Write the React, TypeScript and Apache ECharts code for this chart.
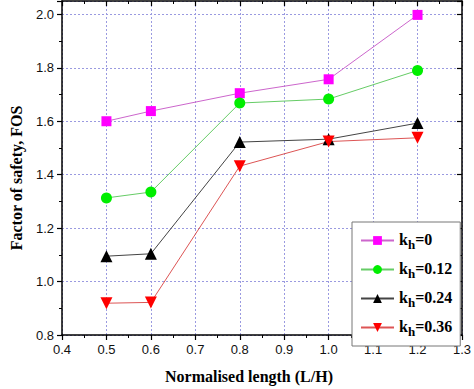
import React, { useEffect, useRef } from "react";
import * as echarts from "echarts";

const xValues = [0.5, 0.6, 0.8, 1.0, 1.2];
const kh0 = [1.6, 1.638, 1.705, 1.757, 1.998];
const kh012 = [1.313, 1.335, 1.668, 1.683, 1.79];
const kh024 = [1.095, 1.104, 1.522, 1.533, 1.593];
const kh036 = [0.919, 0.922, 1.432, 1.524, 1.538];
const seriesNames = ["0", "0.12", "0.24", "0.36"];

export default function App() {
  const ref = useRef<HTMLDivElement>(null);
  useEffect(() => {
    if (!ref.current) return;
    const chart = echarts.init(ref.current, null, { renderer: "svg" });
    const pairs = (ys: number[]) => xValues.map((x, i) => [x, ys[i]]);
    const axisLine = { show: true, lineStyle: { color: "#000", width: 1.5 } };
    const grid = { show: true, lineStyle: { color: "#9a9ae0", type: [2, 2] as any, width: 1 } };
    const label = { fontFamily: "Liberation Sans", fontSize: 13, color: "#111" };
    const rich = {
      a: { fontFamily: "Liberation Serif", fontWeight: "bold", fontSize: 16, color: "#000", verticalAlign: "top", lineHeight: 18 },
      s: { fontFamily: "Liberation Serif", fontWeight: "bold", fontSize: 13, color: "#000", padding: [8, 0, 0, 0], lineHeight: 18 },
    };
    const mk = (name: string, data: number[], color: string, lineColor: string, symbol: string, size: number, rot = 0) => ({
      name,
      type: "line",
      data: pairs(data),
      symbol,
      symbolSize: size,
      symbolRotate: rot,
      itemStyle: { color },
      lineStyle: { color: lineColor, width: 1 },
      z: 3,
    });
    chart.setOption({
      animation: false,
      backgroundColor: "#fff",
      grid: { left: 51, right: 9, top: 1, bottom: 52 },
      xAxis: [
        {
          type: "value",
          min: 0.4,
          max: 1.3,
          interval: 0.1,
          position: "bottom",
          axisLine,
          axisTick: { show: true, inside: false, length: 5, lineStyle: { color: "#000", width: 1.2 } },
          minorTick: { show: true, splitNumber: 2, length: 3, lineStyle: { color: "#000", width: 1 } },
          splitLine: grid,
          axisLabel: { ...label, margin: 8, formatter: (v: number) => v.toFixed(1) },
          name: "Normalised length (L/H)",
          nameLocation: "middle",
          nameGap: 33,
          nameTextStyle: { fontFamily: "Liberation Serif", fontWeight: "bold", fontSize: 16, color: "#000", padding: [0, 26, 0, 0] },
        },
        {
          type: "value",
          min: 0.4,
          max: 1.3,
          interval: 0.1,
          position: "top",
          axisLine,
          axisTick: { show: true, inside: true, length: 5, lineStyle: { color: "#000", width: 1.2 } },
          minorTick: { show: true, splitNumber: 2, length: 3, lineStyle: { color: "#000", width: 1 } },
          splitLine: { show: false },
          axisLabel: { show: false },
        },
      ],
      yAxis: [
        {
          type: "value",
          min: 0.8,
          max: 2.05,
          interval: 0.2,
          position: "left",
          axisLine,
          axisTick: { show: true, inside: false, length: 5, lineStyle: { color: "#000", width: 1.2 } },
          minorTick: { show: true, splitNumber: 2, length: 3, lineStyle: { color: "#000", width: 1 } },
          splitLine: grid,
          axisLabel: {
            ...label,
            margin: 8,
            formatter: (v: number) => (Math.abs(v * 5 - Math.round(v * 5)) < 1e-6 ? v.toFixed(1) : ""),
          },
          name: "Factor of safety, FOS",
          nameLocation: "middle",
          nameGap: 38,
          nameTextStyle: { fontFamily: "Liberation Serif", fontWeight: "bold", fontSize: 16, color: "#000", padding: [0, 20, 0, 0] },
        },
        {
          type: "value",
          min: 0.8,
          max: 2.05,
          interval: 0.2,
          position: "right",
          axisLine,
          axisTick: { show: true, inside: true, length: 5, lineStyle: { color: "#000", width: 1.2 } },
          minorTick: { show: true, splitNumber: 2, length: 3, lineStyle: { color: "#000", width: 1 } },
          splitLine: { show: false },
          axisLabel: { show: false },
        },
      ],
      legend: {
        orient: "vertical",
        left: 352,
        top: 222,
        width: 106,
        itemWidth: 33,
        itemHeight: 11,
        itemGap: 8,
        padding: [8, 8, 8, 8],
        backgroundColor: "#fff",
        borderColor: "#777",
        borderWidth: 1,
        data: seriesNames.map((n) => "kh=" + n),
        formatter: (name: string) => "{a|k}{s|h}{a|=" + name.slice(3) + "}",
        textStyle: { rich: rich as any },
      },
      series: [
        mk("kh=0", kh0, "#ff00ff", "#cc66cc", "rect", 10),
        mk("kh=0.12", kh012, "#00ee00", "#66cc66", "circle", 11),
        mk("kh=0.24", kh024, "#000", "#444", "triangle", 12),
        mk("kh=0.36", kh036, "#ff0000", "#dd5555", "triangle", 12, 180),
      ],
    });
    return () => chart.dispose();
  }, []);
  return <div ref={ref} style={{ width: 474, height: 389, position: "absolute", left: 0, top: 0 }} />;
}
